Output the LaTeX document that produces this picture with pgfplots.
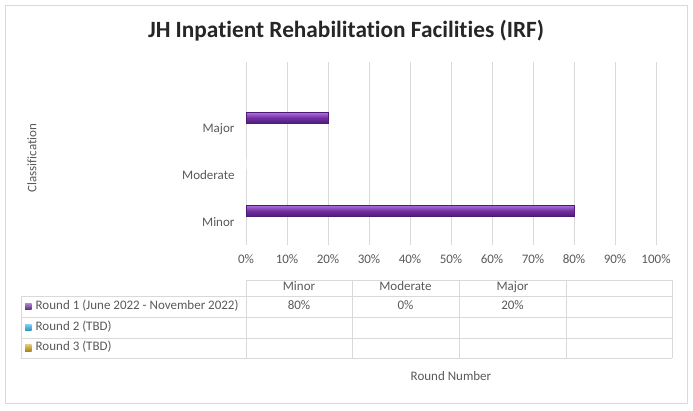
\documentclass[border=0pt]{standalone}
\usepackage{fontspec}
\setmainfont[Ligatures=NoCommon]{Carlito}
\usepackage{pgfplots}
\pgfplotsset{compat=1.18}
\definecolor{txt}{HTML}{595959}
\definecolor{grd}{HTML}{D9D9D9}
\definecolor{pur}{HTML}{7030A0}
\definecolor{purL}{HTML}{B070E0}
\definecolor{purD}{HTML}{4E1A78}
\definecolor{cyn}{HTML}{2CA9E0}
\definecolor{gld}{HTML}{C29A0F}
\begin{document}
\begin{tikzpicture}[x=1pt,y=1pt]
\path[use as bounding box] (0,0) rectangle (693,411);
\draw[grd, line width=1pt] (5.5,7) rectangle (687,405);
\node[font=\fontsize{23.3}{26}\selectfont\bfseries, text=black!85] at (346,380) {JH Inpatient Rehabilitation Facilities (IRF)};
\begin{axis}[at={(246pt,166pt)}, anchor=south west, scale only axis,
  width=410pt, height=183pt,
  xmin=0, xmax=100, ymin=0.5, ymax=4.44,
  xtick={0,10,...,100},
  /pgf/number format/assume math mode=true,
  xticklabel={\pgfmathprintnumber{\tick}\%},
  ytick={1,2,3}, yticklabels={Minor,Moderate,Major},
  major tick length=0pt,
  axis line style={draw=none},
  xmajorgrids, grid style={grd, line width=0.8pt},
  ticklabel style={font=\fontsize{13}{15}\selectfont, text=txt},
  xticklabel style={yshift=-6pt},
  yticklabel style={xshift=-8pt},
  every axis plot/.append style={xbar, bar width=11pt, bar shift=11pt, forget plot},
  clip=false]
\addplot[draw=purD, line width=0.4pt, top color=purL, bottom color=purD, middle color=pur]
  coordinates {(80,1)};
\addplot[draw=grd!40, line width=0.6pt, fill=white]
  coordinates {(0,2)};
\addplot[draw=purD, line width=0.4pt, top color=purL, bottom color=purD, middle color=pur]
  coordinates {(20,3)};
\end{axis}
\node[rotate=90, font=\fontsize{13}{15}\selectfont, text=txt] at (32,253) {Classification};
% data table
\begin{scope}[grd, line width=0.8pt]
\draw (246,131) -- (672,131);
\foreach \yy in {115,94,73,53} {\draw (21,\yy) -- (672,\yy);}
\draw (21,115) -- (21,53);
\foreach \xx in {246,352,459,566,672} {\draw (\xx,131) -- (\xx,53);}
\end{scope}
\begin{scope}[every node/.style={font=\fontsize{13}{15}\selectfont, text=txt, text height=1.6ex, text depth=0.4ex}]
\node at (299,123) {Minor};
\node at (405.5,123) {Moderate};
\node at (512.5,123) {Major};
\node at (299,104.5) {80\%};
\node at (405.5,104.5) {0\%};
\node at (512.5,104.5) {20\%};
\node[anchor=west, inner sep=0pt] at (35.5,104.5) {Round 1 (June 2022 - November 2022)};
\node[anchor=west, inner sep=0pt] at (35.5,83.5) {Round 2 (TBD)};
\node[anchor=west, inner sep=0pt] at (35.5,63) {Round 3 (TBD)};
\node at (451,33) {Round Number};
\end{scope}
\shade[top color=pur!60, bottom color=pur!80!black] (25,101) rectangle (31.5,107.5);
\shade[top color=cyn!60, bottom color=cyn!85!black] (25,80) rectangle (31.5,86.5);
\shade[top color=gld!60, bottom color=gld!85!black] (25,59.5) rectangle (31.5,66);
\end{tikzpicture}
\end{document}
